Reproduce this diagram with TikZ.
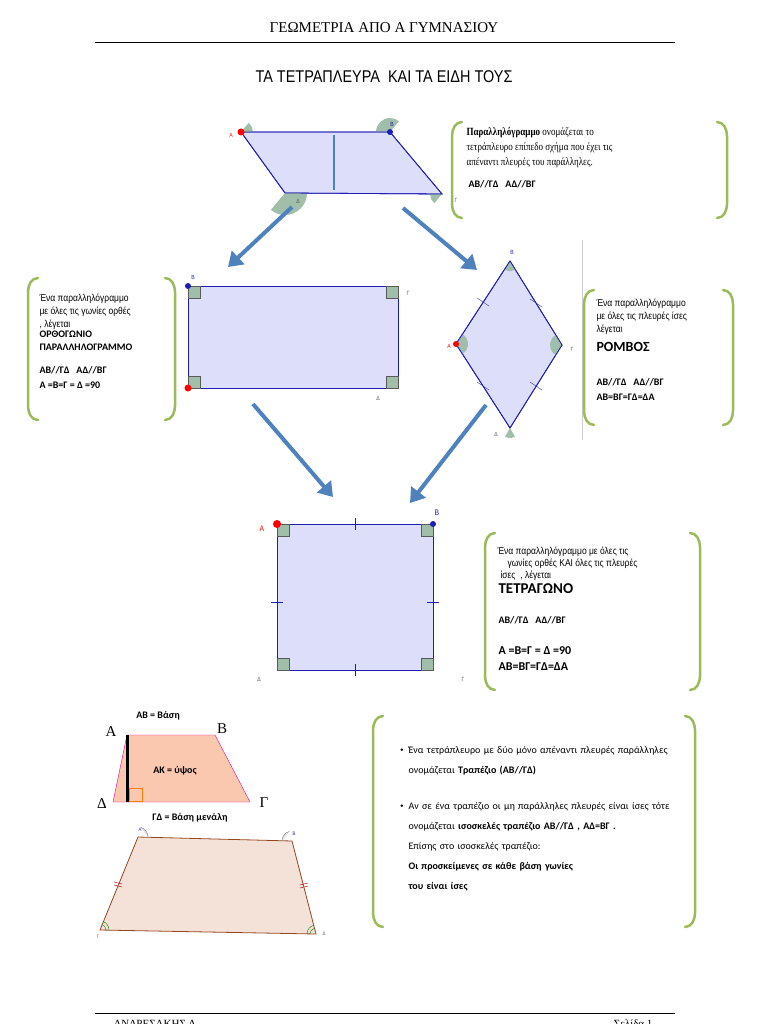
\documentclass[tikz,border=0pt]{standalone}
\usepackage{fontspec}
\setmainfont{Liberation Serif}
\newfontfamily\bodyfont{Carlito}
\newfontfamily\armfont[FakeStretch=0.85]{Liberation Sans}
\newfontfamily\narrowserif[FakeStretch=0.82]{Liberation Serif}
\usetikzlibrary{arrows.meta}

\definecolor{fillblue}{RGB}{220,222,250}
\definecolor{edgeblue}{RGB}{30,30,180}
\definecolor{arrowblue}{RGB}{79,129,189}
\definecolor{bracegreen}{RGB}{155,187,89}
\definecolor{peach}{RGB}{250,200,175}
\definecolor{lightpeach}{RGB}{244,226,216}
\definecolor{brownedge}{RGB}{150,70,30}
\definecolor{markgreen}{RGB}{160,190,170}

\tikzset{
  figure/.style={draw=edgeblue,thick,fill=fillblue},
  flow/.style={-{Triangle[length=14pt,width=18pt]},line width=4pt,draw=arrowblue},
  brace/.style={draw=bracegreen,line width=2.5pt,line cap=round},
  vlabel/.style={font=\armfont\fontsize{6}{7}\selectfont,text=gray!70!black},
  txt/.style={align=left,anchor=north west,font=\bodyfont\fontsize{10}{13}\selectfont},
  rmark/.style={draw=gray!70!black,fill=markgreen,thin},
}
% bracket pair round a text box
\newcommand{\bracketbox}[4]{%
  \draw[brace] (#1+10,#2) to[out=180,in=90] (#1,#2+14) -- (#1,#4-14) to[out=-90,in=180] (#1+10,#4);
  \draw[brace] (#3-10,#2) to[out=0,in=90] (#3,#2+14) -- (#3,#4-14) to[out=-90,in=0] (#3-10,#4);}

\begin{document}
\begin{tikzpicture}[x=1pt,y=-1pt]
\useasboundingbox (0,0) rectangle (768,1024);

% header
\node (head) at (384,28) {\fontsize{15}{17}\selectfont ΓΕΩΜΕΤΡΙΑ ΑΠΟ Α ΓΥΜΝΑΣΙΟΥ};
\draw[thin] (95,42) -- (675,42);
\node (title) at (384,77) {\armfont\fontsize{17}{18}\selectfont ΤΑ ΤΕΤΡΑΠΛΕΥΡΑ\ \ ΚΑΙ ΤΑ ΕΙΔΗ ΤΟΥΣ};

% parallelogram
\coordinate (pA) at (241,132); \coordinate (pB) at (390,132);
\coordinate (pG) at (442,194); \coordinate (pD) at (285,193);
\draw[figure] (pA) -- (pB) -- (pG) -- (pD) -- cycle;
\fill[markgreen] (pA) -- ++(12,0) arc(0:-50:12) -- cycle;
\fill[markgreen] (pB) -- ++(-14,0) arc(180:310:14) -- cycle;
\fill[markgreen] (pD) -- ++(22,0) arc(0:130:22) -- cycle;
\fill[markgreen] (pG) -- ++(-12,0) arc(180:130:12) -- cycle;
\draw[edgeblue,thick] (pA) -- (pB) -- (pG) -- (pD) -- cycle;
\draw[line width=2.5pt,draw=arrowblue] (334,135) -- (334,190);
\fill[red] (pA) circle (3.5); \fill[edgeblue] (pB) circle (3);
\node[vlabel,text=red] at (231,135) {A};
\node[vlabel,text=edgeblue] at (392,124) {B};
\node[vlabel] at (298,201) {Δ};
\node[vlabel] at (456,200) {Γ};

\bracketbox{452}{122}{727}{218}
\node[txt,font=\narrowserif\fontsize{11}{15}\selectfont] (defpar) at (463,124)
  {\textbf{Παραλληλόγραμμο} ονομάζεται το\\ τετράπλευρο επίπεδο σχήμα που έχει τις\\ απέναντι πλευρές του παράλληλες.};
\node[txt,font=\bodyfont\bfseries\fontsize{10}{12}\selectfont] (parpar) at (465,177) {ΑΒ//ΓΔ\ \ \ ΑΔ//ΒΓ};

% flow arrows from parallelogram
\coordinate (s1) at (292,207); \coordinate (t1) at (228,267);
\coordinate (s2) at (403,208); \coordinate (t2) at (477,270);
\draw[flow] (s1) -- (t1);
\draw[flow] (s2) -- (t2);

% rectangle
\coordinate (rA) at (188,388); \coordinate (rB) at (188,286);
\coordinate (rG) at (398,286); \coordinate (rD) at (398,388);
\draw[figure] (rA) -- (rB) -- (rG) -- (rD) -- cycle;
\foreach \px/\py/\dx/\dy in {188/286/1/1,398/286/-1/1,398/388/-1/-1,188/388/1/-1}
  \draw[rmark] (\px,\py) rectangle ++(12*\dx,12*\dy);
\fill[red] (rA) circle (3.5); \fill[edgeblue] (rB) circle (3);
\node[vlabel,text=edgeblue] at (193,277) {B};
\node[vlabel] at (408,293) {Γ};
\node[vlabel] at (378,398) {Δ};

\bracketbox{28}{278}{175}{420}
\node[txt,font=\armfont\fontsize{10}{13}\selectfont] (defrect) at (36,290)
  {Ένα παραλληλόγραμμο\\ με όλες τις γωνίες ορθές\\ , λέγεται};
\node[txt,font=\bodyfont\bfseries\fontsize{10}{13}\selectfont] (namerect) at (36,327)
  {ΟΡΘΟΓΩΝΙΟ\\ ΠΑΡΑΛΛΗΛΟΓΡΑΜΜΟ\\[10pt] ΑΒ//ΓΔ\ \ \ ΑΔ//ΒΓ\\[2pt] Α =Β=Γ = Δ =90};

% rhombus
\coordinate (hB) at (510,261); \coordinate (hG) at (562,345);
\coordinate (hD) at (510,428); \coordinate (hA) at (456,344);
\draw[figure] (hA) -- (hB) -- (hG) -- (hD) -- cycle;
\fill[markgreen] (hB) -- ++(-240:10) arc(-240:-300:10) -- cycle;
\fill[markgreen] (hD) -- ++(60:10) arc(60:120:10) -- cycle;
\fill[markgreen] (hA) -- ++(-58:12) arc(-58:58:12) -- cycle;
\fill[markgreen] (hG) -- ++(122:12) arc(122:238:12) -- cycle;
\draw[edgeblue,thick] (hA) -- (hB) -- (hG) -- (hD) -- cycle;
\foreach \mx/\my in {483/302,536/303,483/386,536/386}
  \draw[edgeblue,thin] (\mx-6,\my-4) -- (\mx+6,\my+4);
\fill[red] (hA) circle (3);
\node[vlabel,text=edgeblue] at (512,252) {B};
\node[vlabel,text=red] at (449,346) {A};
\node[vlabel] at (572,349) {Γ};
\node[vlabel] at (496,434) {Δ};
\draw[gray!40] (582,240) -- (582,440);

\bracketbox{584}{290}{733}{425}
\node[txt,font=\armfont\fontsize{10}{13}\selectfont] (defrho) at (593,295)
  {Ένα παραλληλόγραμμο\\ με όλες τις πλευρές ίσες\\ λέγεται};
\node[txt,font=\bodyfont\bfseries\fontsize{14}{16}\selectfont] (namerho) at (593,339) {ΡΟΜΒΟΣ};
\node[txt,font=\bodyfont\bfseries\fontsize{10}{13}\selectfont] (parrho) at (593,375)
  {ΑΒ//ΓΔ\ \ \ ΑΔ//ΒΓ\\[2pt] ΑΒ=ΒΓ=ΓΔ=ΔΑ};

% flow arrows to square
\coordinate (s3) at (253,404); \coordinate (t3) at (333,497);
\coordinate (s4) at (486,405); \coordinate (t4) at (410,503);
\draw[flow] (s3) -- (t3);
\draw[flow] (s4) -- (t4);

% square
\coordinate (qA) at (277,524); \coordinate (qB) at (433,524);
\coordinate (qG) at (433,670); \coordinate (qD) at (277,670);
\draw[figure] (qA) -- (qB) -- (qG) -- (qD) -- cycle;
\foreach \px/\py/\dx/\dy in {277/524/1/1,433/524/-1/1,433/670/-1/-1,277/670/1/-1}
  \draw[rmark] (\px,\py) rectangle ++(12*\dx,12*\dy);
\draw[edgeblue,thin] (355,518) -- (355,530) (355,664) -- (355,676)
  (271,602) -- (283,602) (427,602) -- (439,602);
\fill[red] (qA) circle (4); \fill[edgeblue] (qB) circle (3);
\node[vlabel,text=red,font=\armfont\fontsize{8}{9}\selectfont] at (262,529) {A};
\node[vlabel,text=edgeblue,font=\armfont\fontsize{8}{9}\selectfont] at (437,513) {B};
\node[vlabel] at (259,679) {Δ};
\node[vlabel] at (463,679) {Γ};

\bracketbox{485}{533}{700}{690}
\node[txt,font=\armfont\fontsize{10}{12}\selectfont] (defsq) at (494,543)
  {Ένα παραλληλόγραμμο με όλες τις\\ \hspace*{10pt}γωνίες ορθές ΚΑΙ όλες τις πλευρές\\ \hspace*{3pt}ίσες\ \ , λέγεται};
\node[txt,font=\bodyfont\bfseries\fontsize{15}{17}\selectfont] (namesq) at (495,580) {ΤΕΤΡΑΓΩΝΟ};
\node[txt,font=\bodyfont\bfseries\fontsize{10}{12}\selectfont] (parsq) at (495,613) {ΑΒ//ΓΔ\ \ \ ΑΔ//ΒΓ};
\node[txt,font=\bodyfont\bfseries\fontsize{12}{16}\selectfont] (eqsq) at (495,643)
  {Α =Β=Γ = Δ =90\\ ΑΒ=ΒΓ=ΓΔ=ΔΑ};

% trapezoid
\coordinate (tA) at (127,735); \coordinate (tB) at (215,735);
\coordinate (tG) at (250,802); \coordinate (tD) at (113,802);
\coordinate (tK) at (127,802);
\draw[draw=magenta,fill=peach] (tA) -- (tB) -- (tG) -- (tD) -- cycle;
\draw[orange,thick] (129,788) rectangle (142,801);
\draw[line width=3pt] (tA) -- (tK);
\node[font=\fontsize{15}{15}\selectfont] at (111,732) {Α};
\node[font=\fontsize{15}{15}\selectfont] at (222,729) {Β};
\node[font=\fontsize{15}{15}\selectfont] at (102,804) {Δ};
\node[font=\fontsize{15}{15}\selectfont] at (264,803) {Γ};
\node[font=\bodyfont\bfseries\fontsize{10}{12}\selectfont] (base1) at (158,716) {ΑΒ = Βάση};
\node[font=\bodyfont\bfseries\fontsize{10}{12}\selectfont] (height) at (175,771) {ΑΚ = ύψος};
\node[font=\bodyfont\bfseries\fontsize{10}{12}\selectfont] (base2) at (190,818) {ΓΔ = Βάση μενάλη};

% isosceles trapezoid
\coordinate (iA) at (138,837); \coordinate (iB) at (292,841);
\coordinate (iD) at (316,934); \coordinate (iG) at (100,930);
\draw[draw=brownedge,thick,fill=lightpeach] (iA) -- (iB) -- (iD) -- (iG) -- cycle;
\draw[gray,fill=gray!25] (iA) ++(10,0) arc(0:-75:10);
\draw[gray,fill=gray!25] (iB) ++(-10,0) arc(180:255:10);
\draw[green!50!black] (iG) ++(9,0) arc(0:-72:9) (iG) ++(6,0) arc(0:-72:6);
\draw[green!50!black] (iD) ++(-9,0) arc(180:255:9) (iD) ++(-6,0) arc(180:255:6);
\draw[red!70!black] (114,882) -- (122,884) (114,885) -- (122,887);
\draw[red!70!black] (300,885) -- (308,883) (300,888) -- (308,886);
\node[vlabel,text=edgeblue,font=\armfont\fontsize{5}{6}\selectfont] at (140,830) {A};
\node[vlabel,text=edgeblue,font=\armfont\fontsize{5}{6}\selectfont] at (294,834) {B};
\node[vlabel,font=\armfont\fontsize{5}{6}\selectfont] at (98,937) {Γ};
\node[vlabel,font=\armfont\fontsize{5}{6}\selectfont] at (324,934) {Δ};

\bracketbox{373}{716}{695}{927}
\node[txt,font=\bodyfont\fontsize{10}{20}\selectfont,text width=300pt] (deftrap) at (380,722)
  {\begin{itemize}\setlength{\itemsep}{12pt}\setlength{\leftmargin}{0pt}
   \item Ένα τετράπλευρο με δύο μόνο απέναντι πλευρές παράλληλες ονομάζεται \textbf{Τραπέζιο (ΑΒ//ΓΔ)}
   \item Αν σε ένα τραπέζιο οι μη παράλληλες πλευρές είναι ίσες τότε ονομάζεται \textbf{ισοσκελές τραπέζιο ΑΒ//ΓΔ , ΑΔ=ΒΓ .}\\
   Επίσης στο ισοσκελές τραπέζιο:\\ \textbf{Οι προσκείμενες σε κάθε βάση γωνίες\\ του είναι ίσες}
   \end{itemize}};

% footer
\draw[thin] (95,1013) -- (675,1013);
\node[anchor=west,font=\fontsize{11}{12}\selectfont] (author) at (110,1024) {ΑΝΔΡΕΣΑΚΗΣ Δ};
\node[anchor=east,font=\fontsize{11}{12}\selectfont] (page) at (656,1024) {Σελίδα 1};
\end{tikzpicture}
\end{document}
